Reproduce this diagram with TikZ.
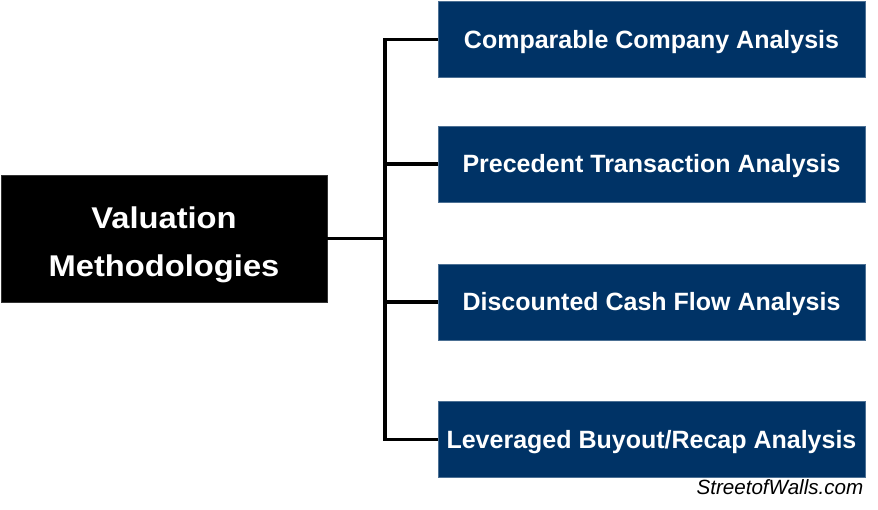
\documentclass[tikz,border=0pt]{standalone}
\usepackage{fontspec}
\setmainfont{Liberation Sans}
\newfontfamily\widesans[FakeStretch=1.09]{Liberation Sans}
\definecolor{navy}{HTML}{003366}
\begin{document}
\begin{tikzpicture}[x=1pt,y=1pt,
  bluebox/.style={fill=navy, draw=navy!70!white, line width=0.8pt, minimum width=427pt, minimum height=76pt,
    inner sep=0pt, text=white, font=\fontsize{25}{30}\selectfont\bfseries, text height=18pt, text depth=0pt},
  mainbox/.style={fill=black, draw=black!80, line width=0.8pt, minimum width=326pt, minimum height=127pt, inner sep=0pt},
  maintext/.style={text=white, font=\widesans\fontsize{30}{36}\selectfont\bfseries, inner sep=0pt, anchor=base},
  conn/.style={line width=3.8pt, black, line join=miter, line cap=butt}]
\useasboundingbox (0,0) rectangle (878,509);
\fill[white] (0,0) rectangle (878,509);
\node[mainbox] (main) at (164,270.5) {};
\node[maintext] (v1) at (164,280.7) {Valuation};
\node[maintext] (v2) at (164,232.3) {Methodologies};
\node[bluebox] (b1) at (651.5,469.5) {Comparable Company Analysis};
\node[bluebox] (b2) at (651.5,345) {Precedent Transaction Analysis};
\node[bluebox] (b3) at (651.5,207) {Discounted Cash Flow Analysis};
\node[bluebox] (b4) at (651.5,69.5) {Leveraged Buyout/Recap Analysis};
\node[font=\fontsize{20.6}{24}\selectfont\itshape, inner sep=0pt, anchor=base east] (wm) at (863.5,15) {StreetofWalls.com};
\coordinate (sp) at (385.3,0);
\draw[conn] (b1.west) -- (b1.west -| sp) -- (b4.west -| sp) -- (b4.west);
\draw[conn] (b2.west -| sp) -- (b2.west);
\draw[conn] (b3.west -| sp) -- (b3.west);
\draw[conn] (main.east) -- (main.east -| sp);
\end{tikzpicture}
\end{document}
